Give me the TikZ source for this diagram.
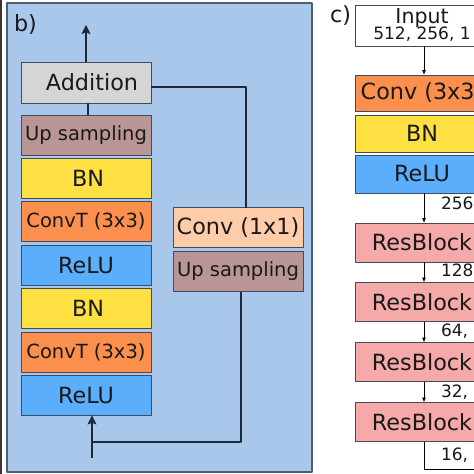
\documentclass[tikz,border=0pt]{standalone}
\usepackage{fontspec}
\setmainfont{DejaVu Sans}
\usetikzlibrary{arrows.meta}
\definecolor{panelblue}{HTML}{A9C7EA}
\definecolor{panelline}{HTML}{4D5E70}
\definecolor{darkedge}{HTML}{3E3232}
\definecolor{addgray}{HTML}{D5D5D5}
\definecolor{uprose}{HTML}{B99595}
\definecolor{bnyellow}{HTML}{FFE043}
\definecolor{convorange}{HTML}{FB8F4E}
\definecolor{relublue}{HTML}{5BAEFB}
\definecolor{convpeach}{HTML}{FFCCA9}
\definecolor{respink}{HTML}{F5A9A9}
\definecolor{edgegray}{HTML}{3F4C5A}
\definecolor{linkdark}{HTML}{1E2A3A}

\begin{document}
\begin{tikzpicture}[x=1pt,y=-1pt,line join=round,
  every node/.style={inner sep=0pt,outer sep=0pt,text=black!90},
  blk/.style={draw=edgegray,line width=0.8pt,minimum width=130pt,minimum height=40pt},
  wide/.style={blk,minimum width=134pt},
  link/.style={draw=linkdark,line width=1.1pt},
  flow/.style={line width=0.8pt,-{Latex[length=5pt,width=4pt]}}]
  \useasboundingbox (0,0) rectangle (474,474);
  \clip (0,0) rectangle (474,474);
  \def\xb{86}
  \def\xc{422}
  \def\fa{\fontsize{22.3}{24}\selectfont}
  \def\fb{\fontsize{19.5}{22}\selectfont}
  \def\fc{\fontsize{17}{19}\selectfont}
  \fill[darkedge] (0,0) rectangle (2.3,474);
  \draw[fill=panelblue,draw=panelline,line width=1.5pt] (7,3) rectangle (312,472);
  \node[font=\fa,anchor=north west] (lblb) at (14,15) {b)};
  \node[blk,fill=addgray,font=\fa,minimum height=41pt] (add) at (\xb,82.5) {\hspace*{12pt}Addition};
  \node[blk,fill=uprose,font=\fb] (upa) at (\xb,135) {Up sampling};
  \node[blk,fill=bnyellow,font=\fa] (bna) at (\xb,178.4) {\hspace*{4pt}BN};
  \node[blk,fill=convorange,font=\fb] (cta) at (\xb,221.8) {ConvT (3x3)};
  \node[blk,fill=relublue,font=\fa] (rla) at (\xb,265.2) {ReLU};
  \node[blk,fill=bnyellow,font=\fa] (bnb) at (\xb,308.6) {\hspace*{4pt}BN};
  \node[blk,fill=convorange,font=\fb] (ctb) at (\xb,352) {ConvT (3x3)};
  \node[blk,fill=relublue,font=\fa] (rlb) at (\xb,395.4) {ReLU};
  \node[blk,fill=convpeach,font=\fa] (cva) at (238,227.5) {Conv (1x1)};
  \node[blk,fill=uprose,font=\fb] (upb) at (238,271.5) {Up sampling};
  \coordinate (top) at (86,25);
  \coordinate (in) at (92,458);
  \coordinate (split) at (92,442);
  \draw[link,-{Stealth[length=9pt,width=9pt,inset=1.5pt]}] (add.north) -- (top);
  \draw[link] ([xshift=2pt]add.south) -- ([xshift=2pt]upa.north);
  \draw[link] ([xshift=8pt]cva.north) |- ([yshift=-4.5pt]add.east);
  \draw[link] (split) -| ([xshift=3pt]upb.south);
  \draw[link,-{Stealth[length=9pt,width=9pt,inset=1.5pt]}] (in) -- (in |- rlb.south);
  \node[font=\fa,anchor=north west] (lblc) at (330,6) {c)};
  \node[wide,fill=white,minimum height=41pt,align=center,font=\fc] (inp) at (\xc,25.5) {{\fontsize{20.5}{20}\selectfont Input}\\[-3pt]512, 256, 1};
  \node[wide,fill=convorange,font=\fa,minimum height=36pt] (cv) at (\xc,93) {Conv (3x3)};
  \node[wide,fill=bnyellow,font=\fa,minimum height=37pt] (bn) at (\xc,133.5) {BN};
  \node[wide,fill=relublue,font=\fa,minimum height=38pt] (rl) at (\xc,174) {ReLU};
  \node[wide,fill=respink,font=\fa,minimum height=39pt] (rba) at (\xc,242.5) {ResBlock};
  \node[wide,fill=respink,font=\fa,minimum height=39pt] (rbb) at (\xc,302) {ResBlock};
  \node[wide,fill=respink,font=\fa,minimum height=39pt] (rbc) at (\xc,362) {ResBlock};
  \node[wide,fill=respink,font=\fa,minimum height=39pt] (rbd) at (\xc,422) {ResBlock};
  \coordinate (out) at (490,469);
  \draw[flow] ([xshift=2pt]inp.south) -- ([xshift=2pt]cv.north);
  \draw[flow] ([xshift=2pt]rl.south) -- ([xshift=2pt]rba.north);
  \draw[flow] ([xshift=2pt]rba.south) -- ([xshift=2pt]rbb.north);
  \draw[flow] ([xshift=2pt]rbb.south) -- ([xshift=2pt]rbc.north);
  \draw[flow] ([xshift=2pt]rbc.south) -- ([xshift=2pt]rbd.north);
  \draw[line width=0.8pt] ([xshift=2pt]rbd.south) |- (out);
  \node[font=\fc,anchor=west] (sza) at (441,204) {256,};
  \node[font=\fc,anchor=west] (szb) at (441,271) {128,};
  \node[font=\fc,anchor=west] (szc) at (441,331) {64,};
  \node[font=\fc,anchor=west] (szd) at (441,392) {32,};
  \node[font=\fc,anchor=west] (sze) at (441,455) {16,};
\end{tikzpicture}
\end{document}
